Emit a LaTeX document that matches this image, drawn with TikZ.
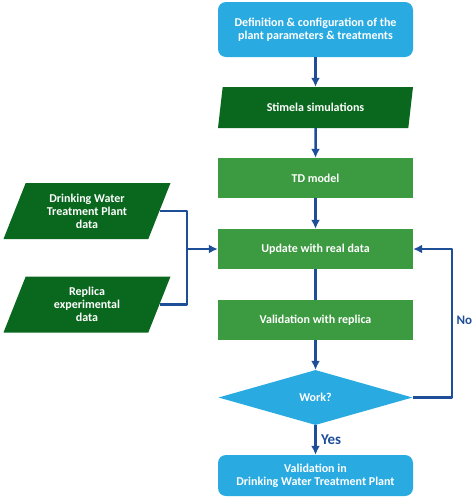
\documentclass[tikz,border=0pt]{standalone}
\usepackage{fontspec}
\setmainfont{Carlito}
\usetikzlibrary{shapes.geometric,arrows.meta}
\definecolor{lblue}{RGB}{41,171,226}
\definecolor{dblue}{RGB}{31,78,153}
\definecolor{dgreen}{RGB}{10,104,30}
\definecolor{mgreen}{RGB}{60,154,64}
\begin{document}
\begin{tikzpicture}[x=1pt,y=-1pt,font=\bfseries\fontsize{12}{13}\selectfont,line join=round,>={Latex[length=9pt,width=9pt]},
	blk/.style={fill=mgreen,text=white,minimum width=195pt,minimum height=40pt,inner sep=2pt,align=center},
	term/.style={blk,fill=lblue,rounded corners=8pt},
	iobox/.style={trapezium,trapezium stretches body,fill=dgreen,text=white,inner sep=1pt,align=center},
	conn/.style={draw=dblue,line width=2.5pt}]
	\useasboundingbox (0,0) rectangle (474,499);
	\node[term,minimum height=55pt] (def) at (315.5,29.5) {Definition \& configuration of the\\plant parameters \& treatments};
	\node[iobox,trapezium left angle=66,trapezium right angle=114,minimum width=195pt,minimum height=41pt] (stim) at (315.5,107.5) {Stimela simulations};
	\node[blk] (td) at (315.5,178) {TD model};
	\node[blk] (upd) at (315.5,249) {Update with real data};
	\node[blk] (val) at (315.5,320) {Validation with replica};
	\node[diamond,fill=lblue,text=white,inner sep=0pt,minimum width=194pt,minimum height=55pt] (work) at (315.5,397.5) {Work?};
	\node[term,minimum height=41pt] (fin) at (315.5,475.5) {Validation in\\Drinking Water Treatment Plant};
	\node[iobox,trapezium left angle=58.7,trapezium right angle=121.3,minimum width=167pt,minimum height=56pt] (dwtp) at (87,211) {Drinking Water\\Treatment Plant\\data};
	\node[iobox,trapezium left angle=58.7,trapezium right angle=121.3,minimum width=167pt,minimum height=56pt] (rep) at (87,304.5) {Replica\\experimental\\data};
	\coordinate (jn) at (187,249);
	\coordinate (nocorner) at (452,397.5);
	\draw[conn,->] (def)--(stim);
	\draw[conn,->] (stim)--(td);
	\draw[conn,->] (td)--(upd);
	\draw[conn] (upd)--(val);
	\draw[conn,->] (val)--(work);
	\draw[conn,->] (work)--(fin) node[midway,right,text=dblue,font=\bfseries\fontsize{15}{17}\selectfont,xshift=1pt]{Yes};
	\draw[conn] (dwtp.east)-|(jn) (rep.east)-|(jn);
	\draw[conn,->] (jn)--(upd.west);
	\draw[conn,->] (work.east)--(nocorner)|-(upd.east) node[pos=0.26,right,text=dblue,font=\bfseries\fontsize{13}{15}\selectfont,xshift=0pt]{No};
\end{tikzpicture}
\end{document}
